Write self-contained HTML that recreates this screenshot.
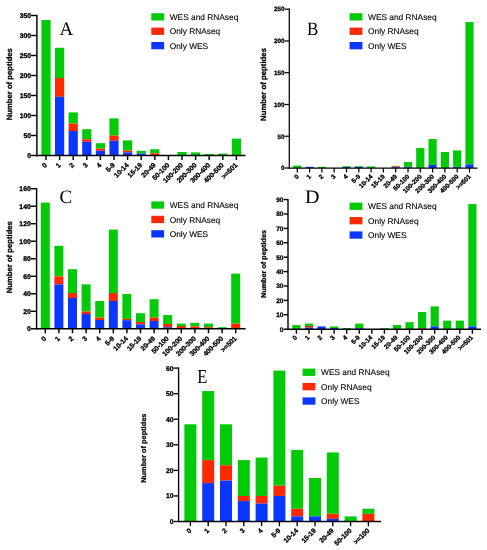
<!DOCTYPE html>
<html><head><meta charset="utf-8"><title>Figure</title>
<style>
html,body{margin:0;padding:0;background:#fff;}
svg{display:block;}
svg text{font-family:"Liberation Sans",sans-serif;fill:#000;text-rendering:geometricPrecision;}
</style></head><body>
<svg width="487" height="550" viewBox="0 0 487 550">
<rect x="0" y="0" width="487" height="550" fill="#ffffff"/>
<rect x="41.40" y="20.00" width="9.20" height="135.50" fill="#02ca08"/>
<rect x="55.00" y="47.80" width="9.20" height="30.20" fill="#02ca08"/>
<rect x="55.00" y="78.00" width="9.20" height="18.80" fill="#ff2800"/>
<rect x="55.00" y="96.80" width="9.20" height="58.70" fill="#0a37ff"/>
<rect x="68.60" y="112.40" width="9.20" height="11.20" fill="#02ca08"/>
<rect x="68.60" y="123.60" width="9.20" height="7.40" fill="#ff2800"/>
<rect x="68.60" y="131.00" width="9.20" height="24.50" fill="#0a37ff"/>
<rect x="82.20" y="129.20" width="9.20" height="10.00" fill="#02ca08"/>
<rect x="82.20" y="139.20" width="9.20" height="2.60" fill="#ff2800"/>
<rect x="82.20" y="141.80" width="9.20" height="13.70" fill="#0a37ff"/>
<rect x="95.80" y="143.20" width="9.20" height="5.40" fill="#02ca08"/>
<rect x="95.80" y="148.60" width="9.20" height="2.20" fill="#ff2800"/>
<rect x="95.80" y="150.80" width="9.20" height="4.70" fill="#0a37ff"/>
<rect x="109.40" y="118.40" width="9.20" height="17.20" fill="#02ca08"/>
<rect x="109.40" y="135.60" width="9.20" height="5.20" fill="#ff2800"/>
<rect x="109.40" y="140.80" width="9.20" height="14.70" fill="#0a37ff"/>
<rect x="123.00" y="140.40" width="9.20" height="10.20" fill="#02ca08"/>
<rect x="123.00" y="150.60" width="9.20" height="1.80" fill="#ff2800"/>
<rect x="123.00" y="152.40" width="9.20" height="3.10" fill="#0a37ff"/>
<rect x="136.60" y="150.80" width="9.20" height="2.80" fill="#02ca08"/>
<rect x="136.60" y="153.60" width="9.20" height="1.90" fill="#0a37ff"/>
<rect x="150.20" y="149.20" width="9.20" height="4.00" fill="#02ca08"/>
<rect x="150.20" y="153.20" width="9.20" height="2.30" fill="#ff2800"/>
<rect x="177.40" y="152.00" width="9.20" height="3.50" fill="#02ca08"/>
<rect x="191.00" y="152.40" width="9.20" height="3.10" fill="#02ca08"/>
<rect x="204.60" y="154.00" width="9.20" height="1.50" fill="#02ca08"/>
<rect x="218.20" y="153.60" width="9.20" height="1.90" fill="#02ca08"/>
<rect x="231.80" y="138.60" width="9.20" height="16.90" fill="#02ca08"/>
<line x1="36.90" y1="14.78" x2="36.90" y2="156.22" stroke="#000" stroke-width="1.45"/>
<line x1="36.17" y1="155.50" x2="245.60" y2="155.50" stroke="#000" stroke-width="1.45"/>
<line x1="31.10" y1="155.50" x2="36.90" y2="155.50" stroke="#000" stroke-width="1.45"/>
<text transform="translate(31.00,157.95) scale(1.0,1)" font-size="6.8" font-weight="bold" text-anchor="end" stroke="#000" stroke-width="0.3">0</text>
<line x1="31.10" y1="135.50" x2="36.90" y2="135.50" stroke="#000" stroke-width="1.45"/>
<text transform="translate(31.00,137.95) scale(1.0,1)" font-size="6.8" font-weight="bold" text-anchor="end" stroke="#000" stroke-width="0.3">50</text>
<line x1="31.10" y1="115.50" x2="36.90" y2="115.50" stroke="#000" stroke-width="1.45"/>
<text transform="translate(31.00,117.95) scale(1.0,1)" font-size="6.8" font-weight="bold" text-anchor="end" stroke="#000" stroke-width="0.3">100</text>
<line x1="31.10" y1="95.50" x2="36.90" y2="95.50" stroke="#000" stroke-width="1.45"/>
<text transform="translate(31.00,97.95) scale(1.0,1)" font-size="6.8" font-weight="bold" text-anchor="end" stroke="#000" stroke-width="0.3">150</text>
<line x1="31.10" y1="75.50" x2="36.90" y2="75.50" stroke="#000" stroke-width="1.45"/>
<text transform="translate(31.00,77.95) scale(1.0,1)" font-size="6.8" font-weight="bold" text-anchor="end" stroke="#000" stroke-width="0.3">200</text>
<line x1="31.10" y1="55.50" x2="36.90" y2="55.50" stroke="#000" stroke-width="1.45"/>
<text transform="translate(31.00,57.95) scale(1.0,1)" font-size="6.8" font-weight="bold" text-anchor="end" stroke="#000" stroke-width="0.3">250</text>
<line x1="31.10" y1="35.50" x2="36.90" y2="35.50" stroke="#000" stroke-width="1.45"/>
<text transform="translate(31.00,37.95) scale(1.0,1)" font-size="6.8" font-weight="bold" text-anchor="end" stroke="#000" stroke-width="0.3">300</text>
<line x1="31.10" y1="15.50" x2="36.90" y2="15.50" stroke="#000" stroke-width="1.45"/>
<text transform="translate(31.00,17.95) scale(1.0,1)" font-size="6.8" font-weight="bold" text-anchor="end" stroke="#000" stroke-width="0.3">350</text>
<line x1="46.00" y1="155.50" x2="46.00" y2="160.00" stroke="#000" stroke-width="1.45"/>
<text transform="translate(46.40,164.60) rotate(-45)" font-size="6.8" font-weight="bold" text-anchor="end" dominant-baseline="central" stroke="#000" stroke-width="0.3">0</text>
<line x1="59.60" y1="155.50" x2="59.60" y2="160.00" stroke="#000" stroke-width="1.45"/>
<text transform="translate(60.00,164.60) rotate(-45)" font-size="6.8" font-weight="bold" text-anchor="end" dominant-baseline="central" stroke="#000" stroke-width="0.3">1</text>
<line x1="73.20" y1="155.50" x2="73.20" y2="160.00" stroke="#000" stroke-width="1.45"/>
<text transform="translate(73.60,164.60) rotate(-45)" font-size="6.8" font-weight="bold" text-anchor="end" dominant-baseline="central" stroke="#000" stroke-width="0.3">2</text>
<line x1="86.80" y1="155.50" x2="86.80" y2="160.00" stroke="#000" stroke-width="1.45"/>
<text transform="translate(87.20,164.60) rotate(-45)" font-size="6.8" font-weight="bold" text-anchor="end" dominant-baseline="central" stroke="#000" stroke-width="0.3">3</text>
<line x1="100.40" y1="155.50" x2="100.40" y2="160.00" stroke="#000" stroke-width="1.45"/>
<text transform="translate(100.80,164.60) rotate(-45)" font-size="6.8" font-weight="bold" text-anchor="end" dominant-baseline="central" stroke="#000" stroke-width="0.3">4</text>
<line x1="114.00" y1="155.50" x2="114.00" y2="160.00" stroke="#000" stroke-width="1.45"/>
<text transform="translate(114.40,164.60) rotate(-45)" font-size="6.8" font-weight="bold" text-anchor="end" dominant-baseline="central" stroke="#000" stroke-width="0.3">5-9</text>
<line x1="127.60" y1="155.50" x2="127.60" y2="160.00" stroke="#000" stroke-width="1.45"/>
<text transform="translate(128.00,164.60) rotate(-45)" font-size="6.8" font-weight="bold" text-anchor="end" dominant-baseline="central" stroke="#000" stroke-width="0.3">10-14</text>
<line x1="141.20" y1="155.50" x2="141.20" y2="160.00" stroke="#000" stroke-width="1.45"/>
<text transform="translate(141.60,164.60) rotate(-45)" font-size="6.8" font-weight="bold" text-anchor="end" dominant-baseline="central" stroke="#000" stroke-width="0.3">15-19</text>
<line x1="154.80" y1="155.50" x2="154.80" y2="160.00" stroke="#000" stroke-width="1.45"/>
<text transform="translate(155.20,164.60) rotate(-45)" font-size="6.8" font-weight="bold" text-anchor="end" dominant-baseline="central" stroke="#000" stroke-width="0.3">20-49</text>
<line x1="168.40" y1="155.50" x2="168.40" y2="160.00" stroke="#000" stroke-width="1.45"/>
<text transform="translate(168.80,164.60) rotate(-45)" font-size="6.8" font-weight="bold" text-anchor="end" dominant-baseline="central" stroke="#000" stroke-width="0.3">50-100</text>
<line x1="182.00" y1="155.50" x2="182.00" y2="160.00" stroke="#000" stroke-width="1.45"/>
<text transform="translate(182.40,164.60) rotate(-45)" font-size="6.8" font-weight="bold" text-anchor="end" dominant-baseline="central" stroke="#000" stroke-width="0.3">100-200</text>
<line x1="195.60" y1="155.50" x2="195.60" y2="160.00" stroke="#000" stroke-width="1.45"/>
<text transform="translate(196.00,164.60) rotate(-45)" font-size="6.8" font-weight="bold" text-anchor="end" dominant-baseline="central" stroke="#000" stroke-width="0.3">200-300</text>
<line x1="209.20" y1="155.50" x2="209.20" y2="160.00" stroke="#000" stroke-width="1.45"/>
<text transform="translate(209.60,164.60) rotate(-45)" font-size="6.8" font-weight="bold" text-anchor="end" dominant-baseline="central" stroke="#000" stroke-width="0.3">300-400</text>
<line x1="222.80" y1="155.50" x2="222.80" y2="160.00" stroke="#000" stroke-width="1.45"/>
<text transform="translate(223.20,164.60) rotate(-45)" font-size="6.8" font-weight="bold" text-anchor="end" dominant-baseline="central" stroke="#000" stroke-width="0.3">400-500</text>
<line x1="236.40" y1="155.50" x2="236.40" y2="160.00" stroke="#000" stroke-width="1.45"/>
<text transform="translate(236.80,164.60) rotate(-45)" font-size="6.8" font-weight="bold" text-anchor="end" dominant-baseline="central" stroke="#000" stroke-width="0.3">&gt;=501</text>
<text transform="translate(11.70,84.20) rotate(-90) scale(1.0,1)" font-size="7.7" font-weight="bold" text-anchor="middle" stroke="#000" stroke-width="0.25">Number of peptides</text>
<rect x="151.30" y="13.20" width="12.80" height="7.30" fill="#02ca08"/>
<text x="169.70" y="19.90" font-size="8.35" fill="#111" stroke="#111" stroke-width="0.12">WES and RNAseq</text>
<rect x="151.30" y="27.60" width="12.80" height="7.30" fill="#ff2800"/>
<text x="169.70" y="34.30" font-size="8.35" fill="#111" stroke="#111" stroke-width="0.12">Only RNAseq</text>
<rect x="151.30" y="42.00" width="12.80" height="7.30" fill="#0a37ff"/>
<text x="169.70" y="48.70" font-size="8.35" fill="#111" stroke="#111" stroke-width="0.12">Only WES</text>
<text transform="translate(59.6,35) scale(1.0,1)" font-size="19" style="font-family:'Liberation Serif',serif">A</text>
<rect x="293.20" y="165.60" width="8.20" height="2.40" fill="#02ca08"/>
<rect x="305.50" y="166.80" width="8.20" height="1.20" fill="#0a37ff"/>
<rect x="317.80" y="166.80" width="8.20" height="1.20" fill="#02ca08"/>
<rect x="342.40" y="166.20" width="8.20" height="0.80" fill="#02ca08"/>
<rect x="342.40" y="167.00" width="8.20" height="1.00" fill="#0a37ff"/>
<rect x="354.70" y="166.20" width="8.20" height="0.80" fill="#02ca08"/>
<rect x="354.70" y="167.00" width="8.20" height="1.00" fill="#0a37ff"/>
<rect x="367.00" y="166.40" width="8.20" height="1.60" fill="#02ca08"/>
<rect x="391.60" y="165.80" width="8.20" height="0.50" fill="#02ca08"/>
<rect x="391.60" y="166.30" width="8.20" height="0.90" fill="#ff2800"/>
<rect x="391.60" y="167.20" width="8.20" height="0.80" fill="#0a37ff"/>
<rect x="403.90" y="162.00" width="8.20" height="5.30" fill="#02ca08"/>
<rect x="403.90" y="167.30" width="8.20" height="0.70" fill="#0a37ff"/>
<rect x="416.20" y="148.00" width="8.20" height="20.00" fill="#02ca08"/>
<rect x="428.50" y="139.00" width="8.20" height="26.00" fill="#02ca08"/>
<rect x="428.50" y="165.00" width="8.20" height="3.00" fill="#0a37ff"/>
<rect x="440.80" y="152.00" width="8.20" height="16.00" fill="#02ca08"/>
<rect x="453.10" y="150.40" width="8.20" height="16.80" fill="#02ca08"/>
<rect x="453.10" y="167.20" width="8.20" height="0.80" fill="#0a37ff"/>
<rect x="465.40" y="22.00" width="8.20" height="142.40" fill="#02ca08"/>
<rect x="465.40" y="164.40" width="8.20" height="3.60" fill="#0a37ff"/>
<line x1="289.30" y1="8.57" x2="289.30" y2="168.62" stroke="#000" stroke-width="1.25"/>
<line x1="288.68" y1="168.00" x2="477.60" y2="168.00" stroke="#000" stroke-width="1.25"/>
<line x1="284.70" y1="168.00" x2="289.30" y2="168.00" stroke="#000" stroke-width="1.25"/>
<text transform="translate(284.60,170.27) scale(1.0,1)" font-size="6.3" font-weight="bold" text-anchor="end" stroke="#000" stroke-width="0.3">0</text>
<line x1="284.70" y1="136.24" x2="289.30" y2="136.24" stroke="#000" stroke-width="1.25"/>
<text transform="translate(284.60,138.51) scale(1.0,1)" font-size="6.3" font-weight="bold" text-anchor="end" stroke="#000" stroke-width="0.3">50</text>
<line x1="284.70" y1="104.48" x2="289.30" y2="104.48" stroke="#000" stroke-width="1.25"/>
<text transform="translate(284.60,106.75) scale(1.0,1)" font-size="6.3" font-weight="bold" text-anchor="end" stroke="#000" stroke-width="0.3">100</text>
<line x1="284.70" y1="72.72" x2="289.30" y2="72.72" stroke="#000" stroke-width="1.25"/>
<text transform="translate(284.60,74.99) scale(1.0,1)" font-size="6.3" font-weight="bold" text-anchor="end" stroke="#000" stroke-width="0.3">150</text>
<line x1="284.70" y1="40.96" x2="289.30" y2="40.96" stroke="#000" stroke-width="1.25"/>
<text transform="translate(284.60,43.23) scale(1.0,1)" font-size="6.3" font-weight="bold" text-anchor="end" stroke="#000" stroke-width="0.3">200</text>
<line x1="284.70" y1="9.20" x2="289.30" y2="9.20" stroke="#000" stroke-width="1.25"/>
<text transform="translate(284.60,11.47) scale(1.0,1)" font-size="6.3" font-weight="bold" text-anchor="end" stroke="#000" stroke-width="0.3">250</text>
<line x1="297.30" y1="168.00" x2="297.30" y2="172.50" stroke="#000" stroke-width="1.25"/>
<text transform="translate(298.10,175.80) rotate(-45)" font-size="6.4" font-weight="bold" text-anchor="end" dominant-baseline="central" stroke="#000" stroke-width="0.3">0</text>
<line x1="309.60" y1="168.00" x2="309.60" y2="172.50" stroke="#000" stroke-width="1.25"/>
<text transform="translate(310.40,175.80) rotate(-45)" font-size="6.4" font-weight="bold" text-anchor="end" dominant-baseline="central" stroke="#000" stroke-width="0.3">1</text>
<line x1="321.90" y1="168.00" x2="321.90" y2="172.50" stroke="#000" stroke-width="1.25"/>
<text transform="translate(322.70,175.80) rotate(-45)" font-size="6.4" font-weight="bold" text-anchor="end" dominant-baseline="central" stroke="#000" stroke-width="0.3">2</text>
<line x1="334.20" y1="168.00" x2="334.20" y2="172.50" stroke="#000" stroke-width="1.25"/>
<text transform="translate(335.00,175.80) rotate(-45)" font-size="6.4" font-weight="bold" text-anchor="end" dominant-baseline="central" stroke="#000" stroke-width="0.3">3</text>
<line x1="346.50" y1="168.00" x2="346.50" y2="172.50" stroke="#000" stroke-width="1.25"/>
<text transform="translate(347.30,175.80) rotate(-45)" font-size="6.4" font-weight="bold" text-anchor="end" dominant-baseline="central" stroke="#000" stroke-width="0.3">4</text>
<line x1="358.80" y1="168.00" x2="358.80" y2="172.50" stroke="#000" stroke-width="1.25"/>
<text transform="translate(359.60,175.80) rotate(-45)" font-size="6.4" font-weight="bold" text-anchor="end" dominant-baseline="central" stroke="#000" stroke-width="0.3">5-9</text>
<line x1="371.10" y1="168.00" x2="371.10" y2="172.50" stroke="#000" stroke-width="1.25"/>
<text transform="translate(371.90,175.80) rotate(-45)" font-size="6.4" font-weight="bold" text-anchor="end" dominant-baseline="central" stroke="#000" stroke-width="0.3">10-14</text>
<line x1="383.40" y1="168.00" x2="383.40" y2="172.50" stroke="#000" stroke-width="1.25"/>
<text transform="translate(384.20,175.80) rotate(-45)" font-size="6.4" font-weight="bold" text-anchor="end" dominant-baseline="central" stroke="#000" stroke-width="0.3">15-19</text>
<line x1="395.70" y1="168.00" x2="395.70" y2="172.50" stroke="#000" stroke-width="1.25"/>
<text transform="translate(396.50,175.80) rotate(-45)" font-size="6.4" font-weight="bold" text-anchor="end" dominant-baseline="central" stroke="#000" stroke-width="0.3">20-49</text>
<line x1="408.00" y1="168.00" x2="408.00" y2="172.50" stroke="#000" stroke-width="1.25"/>
<text transform="translate(408.80,175.80) rotate(-45)" font-size="6.4" font-weight="bold" text-anchor="end" dominant-baseline="central" stroke="#000" stroke-width="0.3">50-100</text>
<line x1="420.30" y1="168.00" x2="420.30" y2="172.50" stroke="#000" stroke-width="1.25"/>
<text transform="translate(421.10,175.80) rotate(-45)" font-size="6.4" font-weight="bold" text-anchor="end" dominant-baseline="central" stroke="#000" stroke-width="0.3">100-200</text>
<line x1="432.60" y1="168.00" x2="432.60" y2="172.50" stroke="#000" stroke-width="1.25"/>
<text transform="translate(433.40,175.80) rotate(-45)" font-size="6.4" font-weight="bold" text-anchor="end" dominant-baseline="central" stroke="#000" stroke-width="0.3">200-300</text>
<line x1="444.90" y1="168.00" x2="444.90" y2="172.50" stroke="#000" stroke-width="1.25"/>
<text transform="translate(445.70,175.80) rotate(-45)" font-size="6.4" font-weight="bold" text-anchor="end" dominant-baseline="central" stroke="#000" stroke-width="0.3">300-400</text>
<line x1="457.20" y1="168.00" x2="457.20" y2="172.50" stroke="#000" stroke-width="1.25"/>
<text transform="translate(458.00,175.80) rotate(-45)" font-size="6.4" font-weight="bold" text-anchor="end" dominant-baseline="central" stroke="#000" stroke-width="0.3">400-500</text>
<line x1="469.50" y1="168.00" x2="469.50" y2="172.50" stroke="#000" stroke-width="1.25"/>
<text transform="translate(470.30,175.80) rotate(-45)" font-size="6.4" font-weight="bold" text-anchor="end" dominant-baseline="central" stroke="#000" stroke-width="0.3">&gt;=501</text>
<text transform="translate(265.60,84.50) rotate(-90) scale(1.01,1)" font-size="7.7" font-weight="bold" text-anchor="middle" stroke="#000" stroke-width="0.25">Number of peptides</text>
<rect x="349.60" y="13.20" width="12.80" height="7.30" fill="#02ca08"/>
<text x="368.00" y="19.90" font-size="8.35" fill="#111" stroke="#111" stroke-width="0.12">WES and RNAseq</text>
<rect x="349.60" y="27.60" width="12.80" height="7.30" fill="#ff2800"/>
<text x="368.00" y="34.30" font-size="8.35" fill="#111" stroke="#111" stroke-width="0.12">Only RNAseq</text>
<rect x="349.60" y="42.00" width="12.80" height="7.30" fill="#0a37ff"/>
<text x="368.00" y="48.70" font-size="8.35" fill="#111" stroke="#111" stroke-width="0.12">Only WES</text>
<text transform="translate(307.0,35.2) scale(0.9,1)" font-size="18.9" style="font-family:'Liberation Serif',serif">B</text>
<rect x="40.80" y="202.60" width="9.00" height="126.20" fill="#02ca08"/>
<rect x="54.40" y="245.80" width="9.00" height="30.60" fill="#02ca08"/>
<rect x="54.40" y="276.40" width="9.00" height="8.00" fill="#ff2800"/>
<rect x="54.40" y="284.40" width="9.00" height="44.40" fill="#0a37ff"/>
<rect x="68.00" y="269.20" width="9.00" height="23.80" fill="#02ca08"/>
<rect x="68.00" y="293.00" width="9.00" height="5.00" fill="#ff2800"/>
<rect x="68.00" y="298.00" width="9.00" height="30.80" fill="#0a37ff"/>
<rect x="81.60" y="284.30" width="9.00" height="27.20" fill="#02ca08"/>
<rect x="81.60" y="311.50" width="9.00" height="2.50" fill="#ff2800"/>
<rect x="81.60" y="314.00" width="9.00" height="14.80" fill="#0a37ff"/>
<rect x="95.20" y="301.00" width="9.00" height="16.60" fill="#02ca08"/>
<rect x="95.20" y="317.60" width="9.00" height="2.40" fill="#ff2800"/>
<rect x="95.20" y="320.00" width="9.00" height="8.80" fill="#0a37ff"/>
<rect x="108.80" y="229.60" width="9.00" height="63.40" fill="#02ca08"/>
<rect x="108.80" y="293.00" width="9.00" height="8.00" fill="#ff2800"/>
<rect x="108.80" y="301.00" width="9.00" height="27.80" fill="#0a37ff"/>
<rect x="122.40" y="294.00" width="9.00" height="25.00" fill="#02ca08"/>
<rect x="122.40" y="319.00" width="9.00" height="1.20" fill="#ff2800"/>
<rect x="122.40" y="320.20" width="9.00" height="8.60" fill="#0a37ff"/>
<rect x="136.00" y="313.20" width="9.00" height="8.80" fill="#02ca08"/>
<rect x="136.00" y="322.00" width="9.00" height="2.40" fill="#ff2800"/>
<rect x="136.00" y="324.40" width="9.00" height="4.40" fill="#0a37ff"/>
<rect x="149.60" y="299.20" width="9.00" height="18.40" fill="#02ca08"/>
<rect x="149.60" y="317.60" width="9.00" height="3.40" fill="#ff2800"/>
<rect x="149.60" y="321.00" width="9.00" height="7.80" fill="#0a37ff"/>
<rect x="163.20" y="315.00" width="9.00" height="9.00" fill="#02ca08"/>
<rect x="163.20" y="324.00" width="9.00" height="3.20" fill="#ff2800"/>
<rect x="163.20" y="327.20" width="9.00" height="1.60" fill="#0a37ff"/>
<rect x="176.80" y="323.60" width="9.00" height="2.40" fill="#02ca08"/>
<rect x="176.80" y="326.00" width="9.00" height="2.80" fill="#ff2800"/>
<rect x="190.40" y="322.80" width="9.00" height="3.60" fill="#02ca08"/>
<rect x="190.40" y="326.40" width="9.00" height="2.40" fill="#ff2800"/>
<rect x="204.00" y="323.60" width="9.00" height="3.60" fill="#02ca08"/>
<rect x="204.00" y="327.20" width="9.00" height="1.60" fill="#ff2800"/>
<rect x="217.60" y="327.20" width="9.00" height="1.60" fill="#02ca08"/>
<rect x="231.20" y="273.60" width="9.00" height="50.00" fill="#02ca08"/>
<rect x="231.20" y="323.60" width="9.00" height="5.20" fill="#ff2800"/>
<line x1="36.60" y1="187.97" x2="36.60" y2="329.53" stroke="#000" stroke-width="1.45"/>
<line x1="35.88" y1="328.80" x2="245.60" y2="328.80" stroke="#000" stroke-width="1.45"/>
<line x1="30.80" y1="328.80" x2="36.60" y2="328.80" stroke="#000" stroke-width="1.45"/>
<text transform="translate(30.70,331.25) scale(1.0,1)" font-size="6.8" font-weight="bold" text-anchor="end" stroke="#000" stroke-width="0.3">0</text>
<line x1="30.80" y1="311.29" x2="36.60" y2="311.29" stroke="#000" stroke-width="1.45"/>
<text transform="translate(30.70,313.74) scale(1.0,1)" font-size="6.8" font-weight="bold" text-anchor="end" stroke="#000" stroke-width="0.3">20</text>
<line x1="30.80" y1="293.77" x2="36.60" y2="293.77" stroke="#000" stroke-width="1.45"/>
<text transform="translate(30.70,296.22) scale(1.0,1)" font-size="6.8" font-weight="bold" text-anchor="end" stroke="#000" stroke-width="0.3">40</text>
<line x1="30.80" y1="276.26" x2="36.60" y2="276.26" stroke="#000" stroke-width="1.45"/>
<text transform="translate(30.70,278.71) scale(1.0,1)" font-size="6.8" font-weight="bold" text-anchor="end" stroke="#000" stroke-width="0.3">60</text>
<line x1="30.80" y1="258.75" x2="36.60" y2="258.75" stroke="#000" stroke-width="1.45"/>
<text transform="translate(30.70,261.20) scale(1.0,1)" font-size="6.8" font-weight="bold" text-anchor="end" stroke="#000" stroke-width="0.3">80</text>
<line x1="30.80" y1="241.24" x2="36.60" y2="241.24" stroke="#000" stroke-width="1.45"/>
<text transform="translate(30.70,243.69) scale(1.0,1)" font-size="6.8" font-weight="bold" text-anchor="end" stroke="#000" stroke-width="0.3">100</text>
<line x1="30.80" y1="223.72" x2="36.60" y2="223.72" stroke="#000" stroke-width="1.45"/>
<text transform="translate(30.70,226.17) scale(1.0,1)" font-size="6.8" font-weight="bold" text-anchor="end" stroke="#000" stroke-width="0.3">120</text>
<line x1="30.80" y1="206.21" x2="36.60" y2="206.21" stroke="#000" stroke-width="1.45"/>
<text transform="translate(30.70,208.66) scale(1.0,1)" font-size="6.8" font-weight="bold" text-anchor="end" stroke="#000" stroke-width="0.3">140</text>
<line x1="30.80" y1="188.70" x2="36.60" y2="188.70" stroke="#000" stroke-width="1.45"/>
<text transform="translate(30.70,191.15) scale(1.0,1)" font-size="6.8" font-weight="bold" text-anchor="end" stroke="#000" stroke-width="0.3">160</text>
<line x1="45.30" y1="328.80" x2="45.30" y2="333.30" stroke="#000" stroke-width="1.45"/>
<text transform="translate(45.70,337.90) rotate(-45)" font-size="6.8" font-weight="bold" text-anchor="end" dominant-baseline="central" stroke="#000" stroke-width="0.3">0</text>
<line x1="58.90" y1="328.80" x2="58.90" y2="333.30" stroke="#000" stroke-width="1.45"/>
<text transform="translate(59.30,337.90) rotate(-45)" font-size="6.8" font-weight="bold" text-anchor="end" dominant-baseline="central" stroke="#000" stroke-width="0.3">1</text>
<line x1="72.50" y1="328.80" x2="72.50" y2="333.30" stroke="#000" stroke-width="1.45"/>
<text transform="translate(72.90,337.90) rotate(-45)" font-size="6.8" font-weight="bold" text-anchor="end" dominant-baseline="central" stroke="#000" stroke-width="0.3">2</text>
<line x1="86.10" y1="328.80" x2="86.10" y2="333.30" stroke="#000" stroke-width="1.45"/>
<text transform="translate(86.50,337.90) rotate(-45)" font-size="6.8" font-weight="bold" text-anchor="end" dominant-baseline="central" stroke="#000" stroke-width="0.3">3</text>
<line x1="99.70" y1="328.80" x2="99.70" y2="333.30" stroke="#000" stroke-width="1.45"/>
<text transform="translate(100.10,337.90) rotate(-45)" font-size="6.8" font-weight="bold" text-anchor="end" dominant-baseline="central" stroke="#000" stroke-width="0.3">4</text>
<line x1="113.30" y1="328.80" x2="113.30" y2="333.30" stroke="#000" stroke-width="1.45"/>
<text transform="translate(113.70,337.90) rotate(-45)" font-size="6.8" font-weight="bold" text-anchor="end" dominant-baseline="central" stroke="#000" stroke-width="0.3">5-9</text>
<line x1="126.90" y1="328.80" x2="126.90" y2="333.30" stroke="#000" stroke-width="1.45"/>
<text transform="translate(127.30,337.90) rotate(-45)" font-size="6.8" font-weight="bold" text-anchor="end" dominant-baseline="central" stroke="#000" stroke-width="0.3">10-14</text>
<line x1="140.50" y1="328.80" x2="140.50" y2="333.30" stroke="#000" stroke-width="1.45"/>
<text transform="translate(140.90,337.90) rotate(-45)" font-size="6.8" font-weight="bold" text-anchor="end" dominant-baseline="central" stroke="#000" stroke-width="0.3">15-19</text>
<line x1="154.10" y1="328.80" x2="154.10" y2="333.30" stroke="#000" stroke-width="1.45"/>
<text transform="translate(154.50,337.90) rotate(-45)" font-size="6.8" font-weight="bold" text-anchor="end" dominant-baseline="central" stroke="#000" stroke-width="0.3">20-49</text>
<line x1="167.70" y1="328.80" x2="167.70" y2="333.30" stroke="#000" stroke-width="1.45"/>
<text transform="translate(168.10,337.90) rotate(-45)" font-size="6.8" font-weight="bold" text-anchor="end" dominant-baseline="central" stroke="#000" stroke-width="0.3">50-100</text>
<line x1="181.30" y1="328.80" x2="181.30" y2="333.30" stroke="#000" stroke-width="1.45"/>
<text transform="translate(181.70,337.90) rotate(-45)" font-size="6.8" font-weight="bold" text-anchor="end" dominant-baseline="central" stroke="#000" stroke-width="0.3">100-200</text>
<line x1="194.90" y1="328.80" x2="194.90" y2="333.30" stroke="#000" stroke-width="1.45"/>
<text transform="translate(195.30,337.90) rotate(-45)" font-size="6.8" font-weight="bold" text-anchor="end" dominant-baseline="central" stroke="#000" stroke-width="0.3">200-300</text>
<line x1="208.50" y1="328.80" x2="208.50" y2="333.30" stroke="#000" stroke-width="1.45"/>
<text transform="translate(208.90,337.90) rotate(-45)" font-size="6.8" font-weight="bold" text-anchor="end" dominant-baseline="central" stroke="#000" stroke-width="0.3">300-400</text>
<line x1="222.10" y1="328.80" x2="222.10" y2="333.30" stroke="#000" stroke-width="1.45"/>
<text transform="translate(222.50,337.90) rotate(-45)" font-size="6.8" font-weight="bold" text-anchor="end" dominant-baseline="central" stroke="#000" stroke-width="0.3">400-500</text>
<line x1="235.70" y1="328.80" x2="235.70" y2="333.30" stroke="#000" stroke-width="1.45"/>
<text transform="translate(236.10,337.90) rotate(-45)" font-size="6.8" font-weight="bold" text-anchor="end" dominant-baseline="central" stroke="#000" stroke-width="0.3">&gt;=501</text>
<text transform="translate(11.70,257.20) rotate(-90) scale(1.0,1)" font-size="7.7" font-weight="bold" text-anchor="middle" stroke="#000" stroke-width="0.25">Number of peptides</text>
<rect x="151.30" y="201.40" width="12.80" height="7.30" fill="#02ca08"/>
<text x="169.70" y="208.10" font-size="8.35" fill="#111" stroke="#111" stroke-width="0.12">WES and RNAseq</text>
<rect x="151.30" y="215.80" width="12.80" height="7.30" fill="#ff2800"/>
<text x="169.70" y="222.50" font-size="8.35" fill="#111" stroke="#111" stroke-width="0.12">Only RNAseq</text>
<rect x="151.30" y="230.20" width="12.80" height="7.30" fill="#0a37ff"/>
<text x="169.70" y="236.90" font-size="8.35" fill="#111" stroke="#111" stroke-width="0.12">Only WES</text>
<text transform="translate(59.6,202.8) scale(1.0,1)" font-size="19" style="font-family:'Liberation Serif',serif">C</text>
<rect x="292.30" y="325.00" width="8.20" height="4.20" fill="#02ca08"/>
<rect x="304.87" y="323.60" width="8.20" height="2.40" fill="#02ca08"/>
<rect x="304.87" y="326.00" width="8.20" height="1.60" fill="#ff2800"/>
<rect x="304.87" y="327.60" width="8.20" height="1.60" fill="#0a37ff"/>
<rect x="317.44" y="326.40" width="8.20" height="2.80" fill="#0a37ff"/>
<rect x="330.01" y="326.40" width="8.20" height="1.60" fill="#02ca08"/>
<rect x="330.01" y="328.00" width="8.20" height="1.20" fill="#0a37ff"/>
<rect x="342.58" y="328.00" width="8.20" height="1.20" fill="#02ca08"/>
<rect x="355.15" y="323.60" width="8.20" height="4.60" fill="#02ca08"/>
<rect x="355.15" y="328.20" width="8.20" height="1.00" fill="#0a37ff"/>
<rect x="380.29" y="328.20" width="8.20" height="1.00" fill="#02ca08"/>
<rect x="392.86" y="325.00" width="8.20" height="4.20" fill="#02ca08"/>
<rect x="405.43" y="322.20" width="8.20" height="7.00" fill="#02ca08"/>
<rect x="418.00" y="312.00" width="8.20" height="16.20" fill="#02ca08"/>
<rect x="418.00" y="328.20" width="8.20" height="1.00" fill="#ff2800"/>
<rect x="430.57" y="306.40" width="8.20" height="20.00" fill="#02ca08"/>
<rect x="430.57" y="326.40" width="8.20" height="2.80" fill="#0a37ff"/>
<rect x="443.14" y="320.60" width="8.20" height="8.60" fill="#02ca08"/>
<rect x="455.71" y="320.60" width="8.20" height="8.60" fill="#02ca08"/>
<rect x="468.28" y="204.00" width="8.20" height="122.40" fill="#02ca08"/>
<rect x="468.28" y="326.40" width="8.20" height="2.80" fill="#0a37ff"/>
<line x1="288.00" y1="198.90" x2="288.00" y2="329.90" stroke="#000" stroke-width="1.4"/>
<line x1="287.30" y1="329.20" x2="481.00" y2="329.20" stroke="#000" stroke-width="1.4"/>
<line x1="283.60" y1="329.20" x2="288.00" y2="329.20" stroke="#000" stroke-width="1.4"/>
<text transform="translate(283.50,331.58) scale(1.0,1)" font-size="6.6" font-weight="bold" text-anchor="end" stroke="#000" stroke-width="0.3">0</text>
<line x1="283.60" y1="314.80" x2="288.00" y2="314.80" stroke="#000" stroke-width="1.4"/>
<text transform="translate(283.50,317.18) scale(1.0,1)" font-size="6.6" font-weight="bold" text-anchor="end" stroke="#000" stroke-width="0.3">10</text>
<line x1="283.60" y1="300.40" x2="288.00" y2="300.40" stroke="#000" stroke-width="1.4"/>
<text transform="translate(283.50,302.78) scale(1.0,1)" font-size="6.6" font-weight="bold" text-anchor="end" stroke="#000" stroke-width="0.3">20</text>
<line x1="283.60" y1="286.00" x2="288.00" y2="286.00" stroke="#000" stroke-width="1.4"/>
<text transform="translate(283.50,288.38) scale(1.0,1)" font-size="6.6" font-weight="bold" text-anchor="end" stroke="#000" stroke-width="0.3">30</text>
<line x1="283.60" y1="271.60" x2="288.00" y2="271.60" stroke="#000" stroke-width="1.4"/>
<text transform="translate(283.50,273.98) scale(1.0,1)" font-size="6.6" font-weight="bold" text-anchor="end" stroke="#000" stroke-width="0.3">40</text>
<line x1="283.60" y1="257.20" x2="288.00" y2="257.20" stroke="#000" stroke-width="1.4"/>
<text transform="translate(283.50,259.58) scale(1.0,1)" font-size="6.6" font-weight="bold" text-anchor="end" stroke="#000" stroke-width="0.3">50</text>
<line x1="283.60" y1="242.80" x2="288.00" y2="242.80" stroke="#000" stroke-width="1.4"/>
<text transform="translate(283.50,245.18) scale(1.0,1)" font-size="6.6" font-weight="bold" text-anchor="end" stroke="#000" stroke-width="0.3">60</text>
<line x1="283.60" y1="228.40" x2="288.00" y2="228.40" stroke="#000" stroke-width="1.4"/>
<text transform="translate(283.50,230.78) scale(1.0,1)" font-size="6.6" font-weight="bold" text-anchor="end" stroke="#000" stroke-width="0.3">70</text>
<line x1="283.60" y1="214.00" x2="288.00" y2="214.00" stroke="#000" stroke-width="1.4"/>
<text transform="translate(283.50,216.38) scale(1.0,1)" font-size="6.6" font-weight="bold" text-anchor="end" stroke="#000" stroke-width="0.3">80</text>
<line x1="283.60" y1="199.60" x2="288.00" y2="199.60" stroke="#000" stroke-width="1.4"/>
<text transform="translate(283.50,201.98) scale(1.0,1)" font-size="6.6" font-weight="bold" text-anchor="end" stroke="#000" stroke-width="0.3">90</text>
<line x1="296.40" y1="329.20" x2="296.40" y2="333.70" stroke="#000" stroke-width="1.4"/>
<text transform="translate(296.40,336.90) rotate(-45)" font-size="6.4" font-weight="bold" text-anchor="end" dominant-baseline="central" stroke="#000" stroke-width="0.3">0</text>
<line x1="308.97" y1="329.20" x2="308.97" y2="333.70" stroke="#000" stroke-width="1.4"/>
<text transform="translate(308.97,336.90) rotate(-45)" font-size="6.4" font-weight="bold" text-anchor="end" dominant-baseline="central" stroke="#000" stroke-width="0.3">1</text>
<line x1="321.54" y1="329.20" x2="321.54" y2="333.70" stroke="#000" stroke-width="1.4"/>
<text transform="translate(321.54,336.90) rotate(-45)" font-size="6.4" font-weight="bold" text-anchor="end" dominant-baseline="central" stroke="#000" stroke-width="0.3">2</text>
<line x1="334.11" y1="329.20" x2="334.11" y2="333.70" stroke="#000" stroke-width="1.4"/>
<text transform="translate(334.11,336.90) rotate(-45)" font-size="6.4" font-weight="bold" text-anchor="end" dominant-baseline="central" stroke="#000" stroke-width="0.3">3</text>
<line x1="346.68" y1="329.20" x2="346.68" y2="333.70" stroke="#000" stroke-width="1.4"/>
<text transform="translate(346.68,336.90) rotate(-45)" font-size="6.4" font-weight="bold" text-anchor="end" dominant-baseline="central" stroke="#000" stroke-width="0.3">4</text>
<line x1="359.25" y1="329.20" x2="359.25" y2="333.70" stroke="#000" stroke-width="1.4"/>
<text transform="translate(359.25,336.90) rotate(-45)" font-size="6.4" font-weight="bold" text-anchor="end" dominant-baseline="central" stroke="#000" stroke-width="0.3">5-9</text>
<line x1="371.82" y1="329.20" x2="371.82" y2="333.70" stroke="#000" stroke-width="1.4"/>
<text transform="translate(371.82,336.90) rotate(-45)" font-size="6.4" font-weight="bold" text-anchor="end" dominant-baseline="central" stroke="#000" stroke-width="0.3">10-14</text>
<line x1="384.39" y1="329.20" x2="384.39" y2="333.70" stroke="#000" stroke-width="1.4"/>
<text transform="translate(384.39,336.90) rotate(-45)" font-size="6.4" font-weight="bold" text-anchor="end" dominant-baseline="central" stroke="#000" stroke-width="0.3">15-19</text>
<line x1="396.96" y1="329.20" x2="396.96" y2="333.70" stroke="#000" stroke-width="1.4"/>
<text transform="translate(396.96,336.90) rotate(-45)" font-size="6.4" font-weight="bold" text-anchor="end" dominant-baseline="central" stroke="#000" stroke-width="0.3">20-49</text>
<line x1="409.53" y1="329.20" x2="409.53" y2="333.70" stroke="#000" stroke-width="1.4"/>
<text transform="translate(409.53,336.90) rotate(-45)" font-size="6.4" font-weight="bold" text-anchor="end" dominant-baseline="central" stroke="#000" stroke-width="0.3">50-100</text>
<line x1="422.10" y1="329.20" x2="422.10" y2="333.70" stroke="#000" stroke-width="1.4"/>
<text transform="translate(422.10,336.90) rotate(-45)" font-size="6.4" font-weight="bold" text-anchor="end" dominant-baseline="central" stroke="#000" stroke-width="0.3">100-200</text>
<line x1="434.67" y1="329.20" x2="434.67" y2="333.70" stroke="#000" stroke-width="1.4"/>
<text transform="translate(434.67,336.90) rotate(-45)" font-size="6.4" font-weight="bold" text-anchor="end" dominant-baseline="central" stroke="#000" stroke-width="0.3">200-300</text>
<line x1="447.24" y1="329.20" x2="447.24" y2="333.70" stroke="#000" stroke-width="1.4"/>
<text transform="translate(447.24,336.90) rotate(-45)" font-size="6.4" font-weight="bold" text-anchor="end" dominant-baseline="central" stroke="#000" stroke-width="0.3">300-400</text>
<line x1="459.81" y1="329.20" x2="459.81" y2="333.70" stroke="#000" stroke-width="1.4"/>
<text transform="translate(459.81,336.90) rotate(-45)" font-size="6.4" font-weight="bold" text-anchor="end" dominant-baseline="central" stroke="#000" stroke-width="0.3">400-500</text>
<line x1="472.38" y1="329.20" x2="472.38" y2="333.70" stroke="#000" stroke-width="1.4"/>
<text transform="translate(472.38,336.90) rotate(-45)" font-size="6.4" font-weight="bold" text-anchor="end" dominant-baseline="central" stroke="#000" stroke-width="0.3">&gt;=501</text>
<text transform="translate(265.60,264.00) rotate(-90) scale(1.035,1)" font-size="7.0" font-weight="bold" text-anchor="middle" stroke="#000" stroke-width="0.25">Number of peptides</text>
<rect x="349.60" y="202.60" width="12.80" height="7.30" fill="#02ca08"/>
<text x="368.00" y="209.30" font-size="8.35" fill="#111" stroke="#111" stroke-width="0.12">WES and RNAseq</text>
<rect x="349.60" y="217.00" width="12.80" height="7.30" fill="#ff2800"/>
<text x="368.00" y="223.70" font-size="8.35" fill="#111" stroke="#111" stroke-width="0.12">Only RNAseq</text>
<rect x="349.60" y="231.40" width="12.80" height="7.30" fill="#0a37ff"/>
<text x="368.00" y="238.10" font-size="8.35" fill="#111" stroke="#111" stroke-width="0.12">Only WES</text>
<text transform="translate(304.9,202.6) scale(1.06,1)" font-size="19" style="font-family:'Liberation Serif',serif">D</text>
<rect x="184.40" y="424.30" width="12.00" height="97.20" fill="#02ca08"/>
<rect x="202.20" y="391.04" width="12.00" height="69.07" fill="#02ca08"/>
<rect x="202.20" y="460.11" width="12.00" height="23.02" fill="#ff2800"/>
<rect x="202.20" y="483.13" width="12.00" height="38.37" fill="#0a37ff"/>
<rect x="220.00" y="424.30" width="12.00" height="40.93" fill="#02ca08"/>
<rect x="220.00" y="465.22" width="12.00" height="15.35" fill="#ff2800"/>
<rect x="220.00" y="480.57" width="12.00" height="40.93" fill="#0a37ff"/>
<rect x="237.80" y="460.11" width="12.00" height="35.81" fill="#02ca08"/>
<rect x="237.80" y="495.92" width="12.00" height="5.12" fill="#ff2800"/>
<rect x="237.80" y="501.04" width="12.00" height="20.46" fill="#0a37ff"/>
<rect x="255.60" y="457.55" width="12.00" height="38.37" fill="#02ca08"/>
<rect x="255.60" y="495.92" width="12.00" height="7.67" fill="#ff2800"/>
<rect x="255.60" y="503.59" width="12.00" height="17.91" fill="#0a37ff"/>
<rect x="273.40" y="370.58" width="12.00" height="115.11" fill="#02ca08"/>
<rect x="273.40" y="485.69" width="12.00" height="10.23" fill="#ff2800"/>
<rect x="273.40" y="495.92" width="12.00" height="25.58" fill="#0a37ff"/>
<rect x="291.20" y="449.88" width="12.00" height="58.83" fill="#02ca08"/>
<rect x="291.20" y="508.71" width="12.00" height="7.67" fill="#ff2800"/>
<rect x="291.20" y="516.38" width="12.00" height="5.12" fill="#0a37ff"/>
<rect x="309.00" y="478.01" width="12.00" height="38.37" fill="#02ca08"/>
<rect x="309.00" y="516.38" width="12.00" height="5.12" fill="#0a37ff"/>
<rect x="326.80" y="452.43" width="12.00" height="61.39" fill="#02ca08"/>
<rect x="326.80" y="513.83" width="12.00" height="5.12" fill="#ff2800"/>
<rect x="326.80" y="518.94" width="12.00" height="2.56" fill="#0a37ff"/>
<rect x="344.60" y="516.38" width="12.00" height="5.12" fill="#02ca08"/>
<rect x="362.40" y="508.71" width="12.00" height="5.12" fill="#02ca08"/>
<rect x="362.40" y="513.83" width="12.00" height="7.67" fill="#ff2800"/>
<line x1="178.60" y1="367.43" x2="178.60" y2="522.17" stroke="#000" stroke-width="1.35"/>
<line x1="177.92" y1="521.50" x2="381.00" y2="521.50" stroke="#000" stroke-width="1.35"/>
<line x1="173.60" y1="521.50" x2="178.60" y2="521.50" stroke="#000" stroke-width="1.35"/>
<text transform="translate(173.50,523.98) scale(0.98,1)" font-size="6.9" font-weight="bold" text-anchor="end" stroke="#000" stroke-width="0.3">0</text>
<line x1="173.60" y1="495.93" x2="178.60" y2="495.93" stroke="#000" stroke-width="1.35"/>
<text transform="translate(173.50,498.42) scale(0.98,1)" font-size="6.9" font-weight="bold" text-anchor="end" stroke="#000" stroke-width="0.3">10</text>
<line x1="173.60" y1="470.37" x2="178.60" y2="470.37" stroke="#000" stroke-width="1.35"/>
<text transform="translate(173.50,472.85) scale(0.98,1)" font-size="6.9" font-weight="bold" text-anchor="end" stroke="#000" stroke-width="0.3">20</text>
<line x1="173.60" y1="444.80" x2="178.60" y2="444.80" stroke="#000" stroke-width="1.35"/>
<text transform="translate(173.50,447.28) scale(0.98,1)" font-size="6.9" font-weight="bold" text-anchor="end" stroke="#000" stroke-width="0.3">30</text>
<line x1="173.60" y1="419.23" x2="178.60" y2="419.23" stroke="#000" stroke-width="1.35"/>
<text transform="translate(173.50,421.72) scale(0.98,1)" font-size="6.9" font-weight="bold" text-anchor="end" stroke="#000" stroke-width="0.3">40</text>
<line x1="173.60" y1="393.67" x2="178.60" y2="393.67" stroke="#000" stroke-width="1.35"/>
<text transform="translate(173.50,396.15) scale(0.98,1)" font-size="6.9" font-weight="bold" text-anchor="end" stroke="#000" stroke-width="0.3">50</text>
<line x1="173.60" y1="368.10" x2="178.60" y2="368.10" stroke="#000" stroke-width="1.35"/>
<text transform="translate(173.50,370.58) scale(0.98,1)" font-size="6.9" font-weight="bold" text-anchor="end" stroke="#000" stroke-width="0.3">60</text>
<line x1="190.40" y1="521.50" x2="190.40" y2="526.20" stroke="#000" stroke-width="1.35"/>
<text transform="translate(190.80,530.00) rotate(-45)" font-size="6.8" font-weight="bold" text-anchor="end" dominant-baseline="central" stroke="#000" stroke-width="0.3">0</text>
<line x1="208.20" y1="521.50" x2="208.20" y2="526.20" stroke="#000" stroke-width="1.35"/>
<text transform="translate(208.60,530.00) rotate(-45)" font-size="6.8" font-weight="bold" text-anchor="end" dominant-baseline="central" stroke="#000" stroke-width="0.3">1</text>
<line x1="226.00" y1="521.50" x2="226.00" y2="526.20" stroke="#000" stroke-width="1.35"/>
<text transform="translate(226.40,530.00) rotate(-45)" font-size="6.8" font-weight="bold" text-anchor="end" dominant-baseline="central" stroke="#000" stroke-width="0.3">2</text>
<line x1="243.80" y1="521.50" x2="243.80" y2="526.20" stroke="#000" stroke-width="1.35"/>
<text transform="translate(244.20,530.00) rotate(-45)" font-size="6.8" font-weight="bold" text-anchor="end" dominant-baseline="central" stroke="#000" stroke-width="0.3">3</text>
<line x1="261.60" y1="521.50" x2="261.60" y2="526.20" stroke="#000" stroke-width="1.35"/>
<text transform="translate(262.00,530.00) rotate(-45)" font-size="6.8" font-weight="bold" text-anchor="end" dominant-baseline="central" stroke="#000" stroke-width="0.3">4</text>
<line x1="279.40" y1="521.50" x2="279.40" y2="526.20" stroke="#000" stroke-width="1.35"/>
<text transform="translate(279.80,530.00) rotate(-45)" font-size="6.8" font-weight="bold" text-anchor="end" dominant-baseline="central" stroke="#000" stroke-width="0.3">5-9</text>
<line x1="297.20" y1="521.50" x2="297.20" y2="526.20" stroke="#000" stroke-width="1.35"/>
<text transform="translate(297.60,530.00) rotate(-45)" font-size="6.8" font-weight="bold" text-anchor="end" dominant-baseline="central" stroke="#000" stroke-width="0.3">10-14</text>
<line x1="315.00" y1="521.50" x2="315.00" y2="526.20" stroke="#000" stroke-width="1.35"/>
<text transform="translate(315.40,530.00) rotate(-45)" font-size="6.8" font-weight="bold" text-anchor="end" dominant-baseline="central" stroke="#000" stroke-width="0.3">15-19</text>
<line x1="332.80" y1="521.50" x2="332.80" y2="526.20" stroke="#000" stroke-width="1.35"/>
<text transform="translate(333.20,530.00) rotate(-45)" font-size="6.8" font-weight="bold" text-anchor="end" dominant-baseline="central" stroke="#000" stroke-width="0.3">20-49</text>
<line x1="350.60" y1="521.50" x2="350.60" y2="526.20" stroke="#000" stroke-width="1.35"/>
<text transform="translate(351.00,530.00) rotate(-45)" font-size="6.8" font-weight="bold" text-anchor="end" dominant-baseline="central" stroke="#000" stroke-width="0.3">50-100</text>
<line x1="368.40" y1="521.50" x2="368.40" y2="526.20" stroke="#000" stroke-width="1.35"/>
<text transform="translate(368.80,530.00) rotate(-45)" font-size="6.8" font-weight="bold" text-anchor="end" dominant-baseline="central" stroke="#000" stroke-width="0.3">&gt;=100</text>
<text transform="translate(146.30,448.20) rotate(-90) scale(1.05,1)" font-size="7.0" font-weight="bold" text-anchor="middle" stroke="#000" stroke-width="0.25">Number of peptides</text>
<rect x="302.60" y="368.60" width="12.80" height="7.30" fill="#02ca08"/>
<text x="321.00" y="375.30" font-size="8.35" fill="#111" stroke="#111" stroke-width="0.12">WES and RNAseq</text>
<rect x="302.60" y="383.00" width="12.80" height="7.30" fill="#ff2800"/>
<text x="321.00" y="389.70" font-size="8.35" fill="#111" stroke="#111" stroke-width="0.12">Only RNAseq</text>
<rect x="302.60" y="397.40" width="12.80" height="7.30" fill="#0a37ff"/>
<text x="321.00" y="404.10" font-size="8.35" fill="#111" stroke="#111" stroke-width="0.12">Only WES</text>
<text transform="translate(197.3,383.2) scale(0.83,1)" font-size="19.8" style="font-family:'Liberation Serif',serif">E</text>
</svg>
</body></html>
